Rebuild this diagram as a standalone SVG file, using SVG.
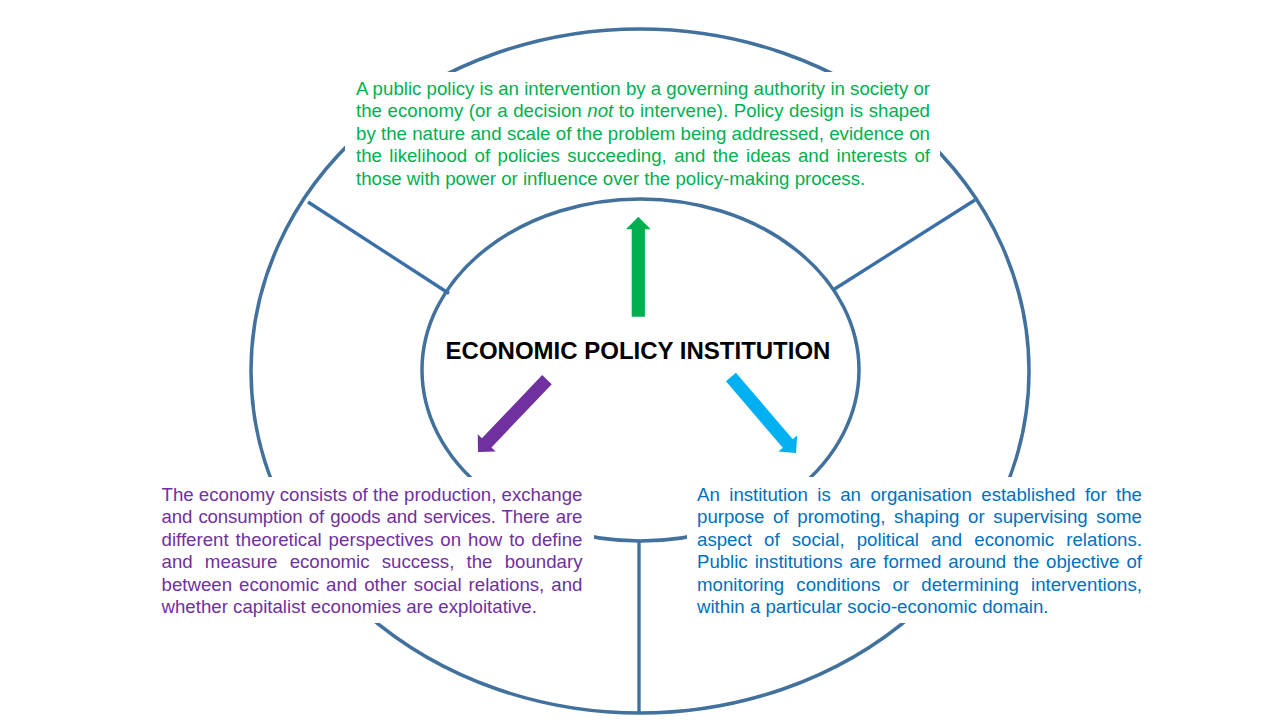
<svg xmlns="http://www.w3.org/2000/svg" width="1280" height="720" viewBox="0 0 1280 720">
<defs>
<style>
.ring{fill:none;stroke:#41719C;stroke-width:3.5}
.spoke{stroke:#3A6FA8;stroke-width:3.3;fill:none}
.box{fill:#FFFFFF}
.txt{font-family:"Liberation Sans",Arial,sans-serif;font-size:18.67px}
.green{fill:#00B050}
.purple{fill:#7030A0}
.blue{fill:#0070C0}
.title{font-family:"Liberation Sans",Arial,sans-serif;font-size:24px;font-weight:bold;fill:#000000}
</style>
<path id="arrowShape" d="M0,0 L12.4,12.6 L6.6,12.6 L6.6,100 L-6.6,100 L-6.6,12.6 L-12.4,12.6 Z"/>
</defs>
<rect width="1280" height="720" fill="#FFFFFF"/>

<g id="outer-ring">
<ellipse class="ring" cx="640" cy="371" rx="389" ry="342"/>
</g>

<g id="center">
<ellipse class="ring" cx="640.5" cy="370" rx="218.5" ry="171"/>
<text class="title" x="638" y="359" text-anchor="middle">ECONOMIC POLICY INSTITUTION</text>
</g>

<g id="connectors">
<line class="spoke" x1="308" y1="202" x2="449" y2="293.5"/>
<line class="spoke" x1="975" y1="200" x2="833" y2="290"/>
<line class="spoke" x1="639" y1="540" x2="639" y2="712"/>
<use href="#arrowShape" fill="#00B050" transform="translate(638.3,216.7)"/>
<use href="#arrowShape" fill="#7030A0" transform="translate(478,452) rotate(223.6)"/>
<use href="#arrowShape" fill="#00B0F0" transform="translate(796,453) rotate(139.4)"/>
</g>

<g id="policy">
<rect class="box" x="345" y="72" width="595" height="123"/>
<text class="txt green">
<tspan x="356" y="95" textLength="574" lengthAdjust="spacing">A public policy is an intervention by a governing authority in society or</tspan>
<tspan x="356" y="117.4" word-spacing="0.39" textLength="574" lengthAdjust="spacing">the economy (or a decision <tspan font-style="italic">not</tspan> to intervene). Policy design is shaped</tspan>
<tspan x="356" y="139.8" word-spacing="0.1" textLength="574" lengthAdjust="spacing">by the nature and scale of the problem being addressed, evidence on</tspan>
<tspan x="356" y="162.2" word-spacing="2.19" textLength="574" lengthAdjust="spacing">the likelihood of policies succeeding, and the ideas and interests of</tspan>
<tspan x="356" y="184.6">those with power or influence over the policy-making process.</tspan>
</text>
</g>

<g id="economy">
<rect class="box" x="155" y="477" width="439" height="146"/>
<text class="txt purple">
<tspan x="161.5" y="501" textLength="421" lengthAdjust="spacing">The economy consists of the production, exchange</tspan>
<tspan x="161.5" y="523.4" word-spacing="1.2" textLength="421" lengthAdjust="spacing">and consumption of goods and services. There are</tspan>
<tspan x="161.5" y="545.8" word-spacing="1.68" textLength="421" lengthAdjust="spacing">different theoretical perspectives on how to define</tspan>
<tspan x="161.5" y="568.2" word-spacing="7.0" textLength="421" lengthAdjust="spacing">and measure economic success, the boundary</tspan>
<tspan x="161.5" y="590.6" word-spacing="1.85" textLength="421" lengthAdjust="spacing">between economic and other social relations, and</tspan>
<tspan x="161.5" y="613">whether capitalist economies are exploitative.</tspan>
</text>
</g>

<g id="institution">
<rect class="box" x="687" y="477" width="463" height="146"/>
<text class="txt blue">
<tspan x="697" y="501" word-spacing="4.39" textLength="445" lengthAdjust="spacing">An institution is an organisation established for the</tspan>
<tspan x="697" y="523.4" word-spacing="3.43" textLength="445" lengthAdjust="spacing">purpose of promoting, shaping or supervising some</tspan>
<tspan x="697" y="545.8" word-spacing="6.9" textLength="445" lengthAdjust="spacing">aspect of social, political and economic relations.</tspan>
<tspan x="697" y="568.2" word-spacing="1.87" textLength="445" lengthAdjust="spacing">Public institutions are formed around the objective of</tspan>
<tspan x="697" y="590.6" word-spacing="6.98" textLength="445" lengthAdjust="spacing">monitoring conditions or determining interventions,</tspan>
<tspan x="697" y="613">within a particular socio-economic domain.</tspan>
</text>
</g>
</svg>
